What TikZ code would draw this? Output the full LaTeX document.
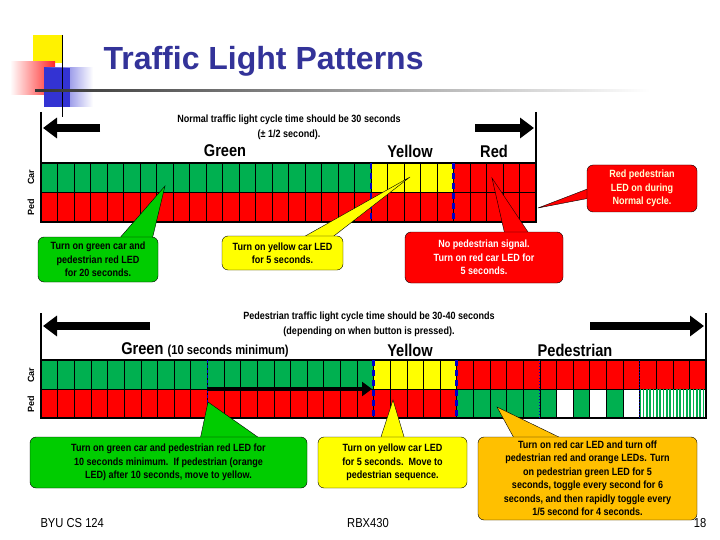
\documentclass[tikz,border=0pt]{standalone}
\usepackage{fontspec}
\setmainfont{Liberation Sans}
\newfontfamily\narrow[FakeStretch=0.86]{Liberation Sans}
\usetikzlibrary{arrows.meta}
\definecolor{cg}{RGB}{0,176,80}
\definecolor{cr}{RGB}{255,0,0}
\definecolor{cy}{RGB}{255,255,0}
\definecolor{cb}{RGB}{0,0,200}
\definecolor{tb}{RGB}{51,51,153}
\definecolor{lg}{RGB}{0,204,0}
\definecolor{co}{RGB}{255,192,0}
\definecolor{cream}{RGB}{255,255,210}
\tikzset{
 cell/.style={draw=black,line width=0.5pt},
 fat/.style={-{Triangle[length=14pt,width=20pt]},line width=8pt},
 span/.style={line width=1.5pt},
 hdr/.style={font=\narrow\bfseries\fontsize{10.5}{15}\selectfont,align=center},
 lab/.style={font=\narrow\bfseries\fontsize{17}{19}\selectfont},
 rowl/.style={font=\bfseries\fontsize{9}{10}\selectfont,rotate=90},
 call/.style={draw=black,rounded corners=6pt,align=center,font=\narrow\bfseries\fontsize{10.5}{13.5}\selectfont,inner sep=2pt},
 bd/.style={cb,line width=2.5pt,dash pattern=on 6pt off 4pt},
 bt/.style={cb,line width=1pt,dash pattern=on 3pt off 2pt},
 bdot/.style={cb,line width=1pt,dotted},
 foot/.style={font=\narrow\fontsize{13}{15}\selectfont},
}
\begin{document}
\begin{tikzpicture}[x=1pt,y=-1pt]
\useasboundingbox[fill=white] (0,0) rectangle (720,540);
% logo
\fill[cy!90!orange] (33,35) rectangle (63,63);
\shade[left color=white,right color=cr!85] (10,62) rectangle (55,95);
\shade[left color=cb!80,right color=white] (44,68) rectangle (93,107);
\fill[cb!80] (44,68) rectangle (70,107);
\draw[line width=1pt] (62,35) -- (62,117);
\shade[left color=black!80,right color=white] (35,89.5) rectangle (650,92);
\node[font=\bfseries\fontsize{32}{36}\selectfont,text=tb,anchor=west] (title) at (100,61) {Traffic Light Patterns};

% ===== bar 1 =====
\foreach \i in {0,...,29}{
  \pgfmathsetmacro\xa{41+16.5*\i}\pgfmathsetmacro\xb{\xa+16.5}
  \ifnum\i<20 \def\cc{cg}\else\ifnum\i<25 \def\cc{cy}\else\def\cc{cr}\fi\fi
  \draw[cell,fill=\cc] (\xa,163) rectangle (\xb,192);
  \draw[cell,fill=cr] (\xa,192) rectangle (\xb,222);
}
\draw[line width=2pt] (41,163) rectangle (536,222);
\draw[bd] (371,163) -- (371,222);
\draw[bd] (453.5,163) -- (453.5,222);
\node[rowl] (c1) at (31,177) {Car};
\node[rowl] (p1) at (31,207) {Ped};
\coordinate (l1a) at (41,112); \coordinate (l1b) at (41,163);
\coordinate (r1a) at (536,112); \coordinate (r1b) at (536,163);
\draw[span] (l1a) -- (l1b); \draw[span] (r1a) -- (r1b);
\coordinate (a1s) at (100,128); \coordinate (a1e) at (43,128);
\coordinate (b1s) at (475,128); \coordinate (b1e) at (534,128);
\draw[fat] (a1s) -- (a1e); \draw[fat] (b1s) -- (b1e);
\node[hdr] (h1) at (289,127) {Normal traffic light cycle time should be 30 seconds\\(\textpm{} 1/2 second).};
\node[lab] (g1) at (225,151) {Green};
\node[lab] (y1) at (410,151) {Yellow};
\node[lab] (r1) at (494,151) {Red};

% callouts 1
\filldraw[fill=lg,draw=black] (118,240) -- (165,186) -- (152,240) -- cycle;
\node[call,fill=lg,minimum width=120pt,minimum height=45pt] (k1) at (98,259.5) {Turn on green car and\\pedestrian red LED\\for 20 seconds.};
\filldraw[fill=cy,draw=black] (300,239) -- (410,177) -- (330,239) -- cycle;
\node[call,fill=cy,minimum width=121pt,minimum height=34pt] (k2) at (282.5,253) {Turn on yellow car LED\\for 5 seconds.};
\filldraw[fill=cr,draw=black] (505,235) -- (492,178) -- (530,235) -- cycle;
\node[call,fill=cr,text=white,minimum width=158pt,minimum height=51pt] (k3) at (484,257.5) {No pedestrian signal.\\Turn on red car LED for\\5 seconds.};
\filldraw[fill=cr,draw=black] (590,188) -- (538,208) -- (590,198) -- cycle;
\node[call,fill=cr,text=cream,minimum width=110pt,minimum height=47pt] (k4) at (642,188.5) {Red pedestrian\\LED on during\\Normal cycle.};

% ===== bar 2 =====
\def\w{16.625}
\foreach \i in {0,...,39}{
  \pgfmathsetmacro\xa{41+\w*\i}\pgfmathsetmacro\xb{\xa+\w}
  \ifnum\i<20 \def\cc{cg}\else\ifnum\i<25 \def\cc{cy}\else\def\cc{cr}\fi\fi
  \draw[cell,fill=\cc] (\xa,360) rectangle (\xb,389);
  \ifnum\i<25 \def\pc{cr}\else\ifnum\i<30 \def\pc{cg}\else
    \ifnum\i=31 \def\pc{white}\else\ifnum\i=33 \def\pc{white}\else\ifnum\i=35 \def\pc{white}\else\def\pc{cg}\fi\fi\fi\fi\fi
  \ifnum\i<36 \draw[cell,fill=\pc] (\xa,389) rectangle (\xb,418);\fi
}
\foreach \k in {0,...,19}{
  \pgfmathsetmacro\xa{41+\w*36+\k*\w/5}
  \fill[cg] (\xa,389) rectangle ++(\w/10,29);
}
\draw[line width=2pt] (41,360) rectangle (706,418);
\draw[bt] (207.25,360) -- (207.25,418);
\draw[bd] (373.5,360) -- (373.5,418);
\draw[bd] (456.6,360) -- (456.6,418);
\draw[bdot] (539.75,360) -- (539.75,418);
\draw[bdot] (639.5,360) -- (639.5,418);
\coordinate (as) at (207.25,389); \coordinate (ae) at (372,389);
\draw[-{Triangle[length=10pt,width=14pt]},line width=4pt] (as) -- (ae);
\node[rowl] (c2) at (31,375) {Car};
\node[rowl] (p2) at (31,404) {Ped};
\coordinate (l2a) at (41,313); \coordinate (l2b) at (41,360);
\coordinate (r2a) at (706,313); \coordinate (r2b) at (706,360);
\draw[span] (l2a) -- (l2b); \draw[span] (r2a) -- (r2b);
\coordinate (a2s) at (150,326); \coordinate (a2e) at (43,326);
\coordinate (b2s) at (590,326); \coordinate (b2e) at (704,326);
\draw[fat] (a2s) -- (a2e); \draw[fat] (b2s) -- (b2e);
\node[hdr] (h2) at (369,324) {Pedestrian traffic light cycle time should be 30-40 seconds\\(depending on when button is pressed).};
\node[lab] (g2) at (205,350) {Green {\fontsize{13}{15}\selectfont(10 seconds minimum)}};
\node[lab] (y2) at (410,350) {Yellow};
\node[lab] (p2l) at (575,350) {Pedestrian};

% callouts 2
\filldraw[fill=lg,draw=black] (200,440) -- (208,402) -- (262,440) -- cycle;
\node[call,fill=lg,minimum width=277pt,minimum height=51pt] (k5) at (168.5,462.5) {Turn on green car and pedestrian red LED for\\10 seconds minimum.\ \ If pedestrian (orange\\LED) after 10 seconds, move to yellow.};
\filldraw[fill=cy,draw=black] (380,440) -- (393,400) -- (405,440) -- cycle;
\node[call,fill=cy,minimum width=149pt,minimum height=51pt] (k6) at (392.5,462.5) {Turn on yellow car LED\\for 5 seconds.\ \ Move to\\pedestrian sequence.};
\filldraw[fill=co,draw=black] (515,440) -- (497,407) -- (565,440) -- cycle;
\node[call,fill=co,minimum width=219pt,minimum height=83pt] (k7) at (587.5,478.5) {Turn on red car LED and turn off\\pedestrian red and orange LEDs. Turn\\on pedestrian green LED for 5\\seconds, toggle every second for 6\\seconds, and then rapidly toggle every\\1/5 second for 4 seconds.};

% footer
\node[foot,anchor=west] (f1) at (37,523) {BYU CS 124};
\node[foot] (f2) at (368,523) {RBX430};
\node[foot] (f3) at (700,523) {18};
\end{tikzpicture}
\end{document}
